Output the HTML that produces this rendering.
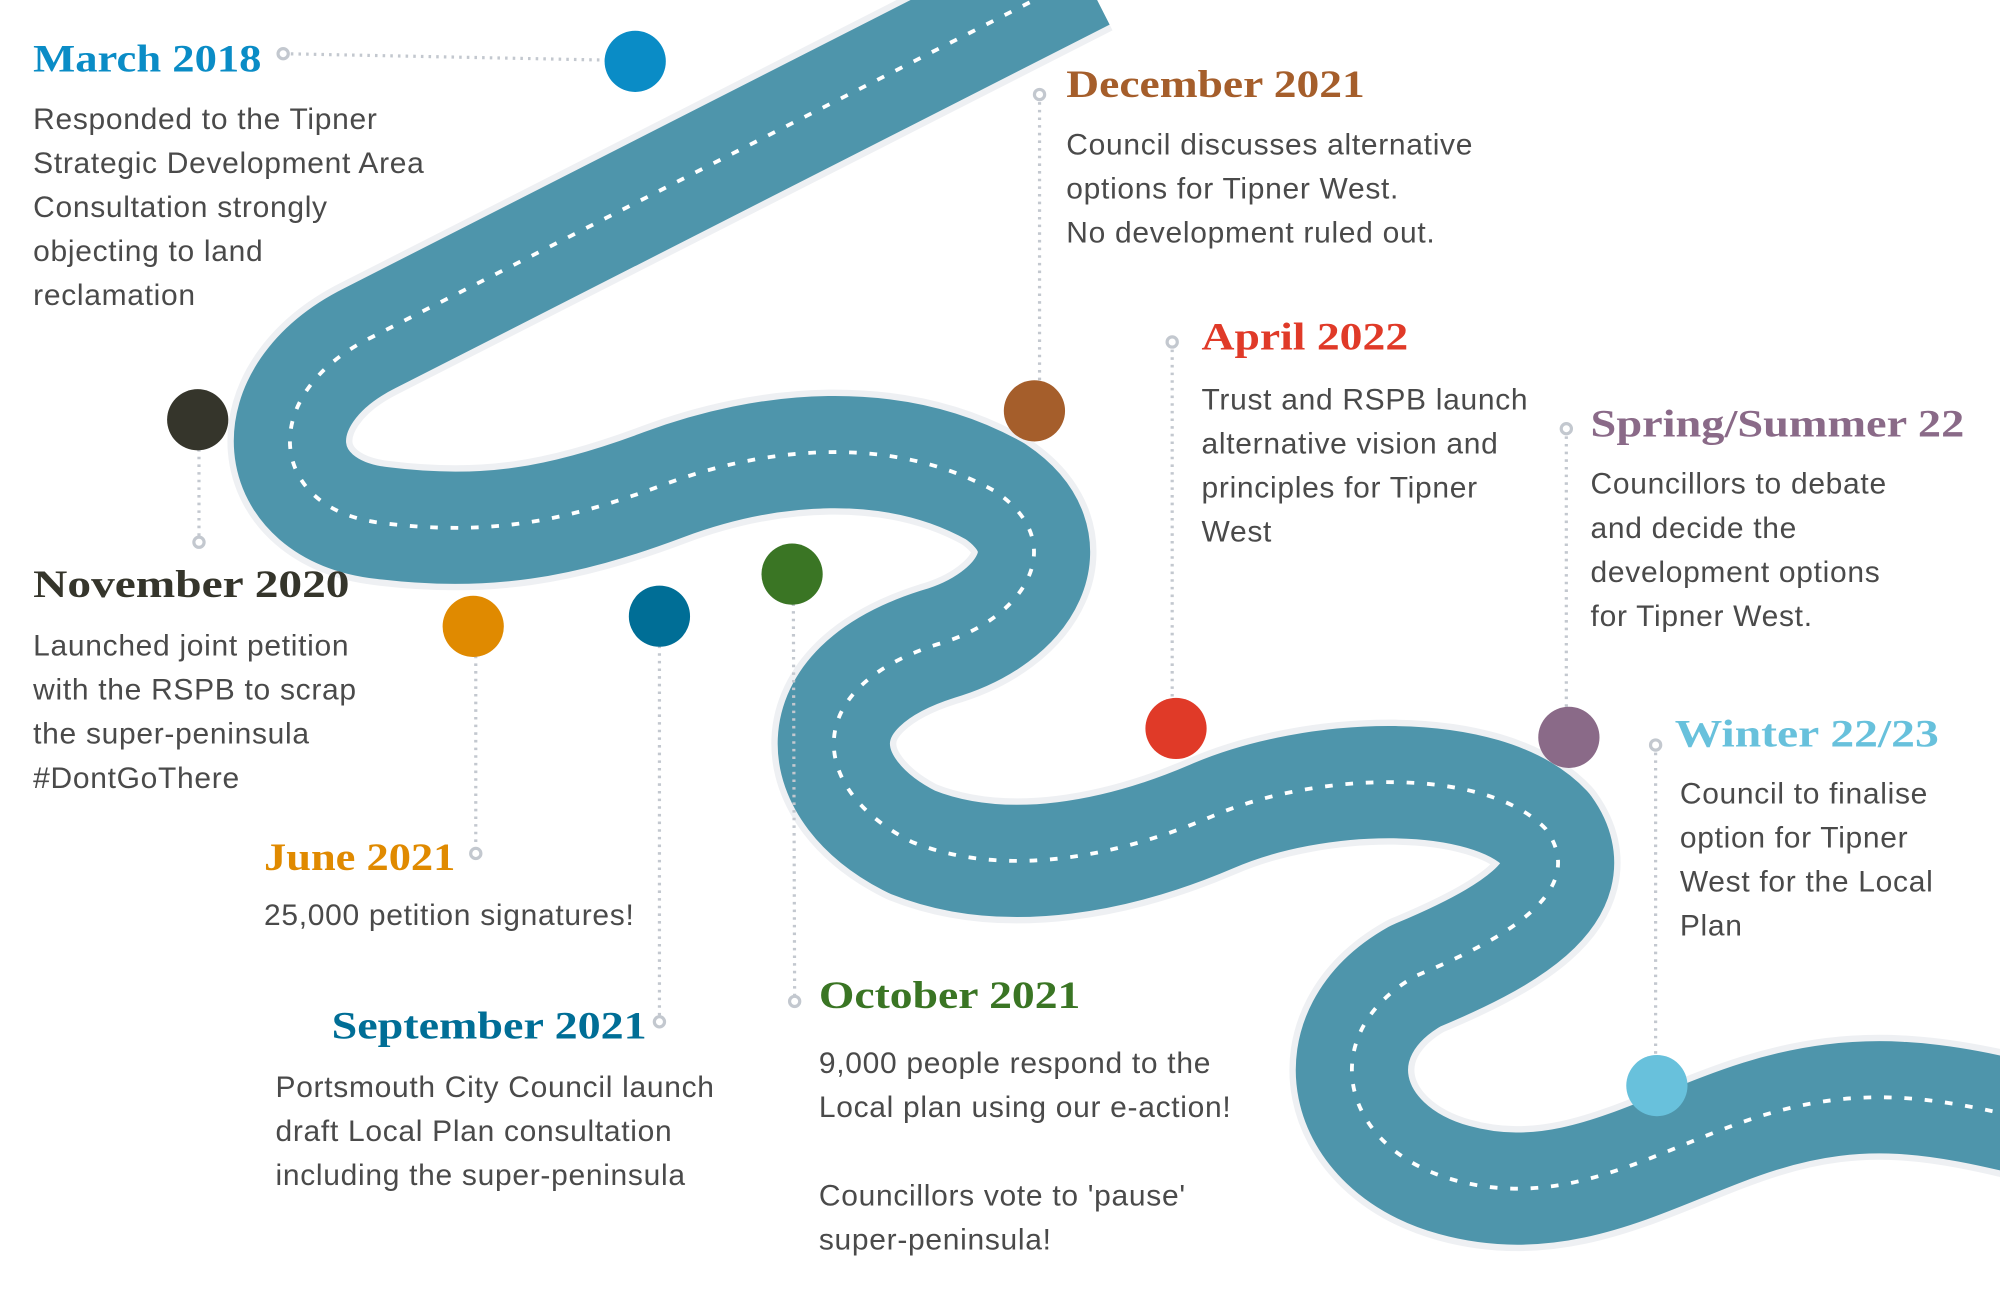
<!DOCTYPE html>
<html><head><meta charset="utf-8"><style>
html,body{margin:0;padding:0;background:#fff;width:2000px;height:1300px;overflow:hidden}
svg{display:block}
.t{font-family:"Liberation Serif",serif;font-weight:bold;font-size:31px}
.b{font-family:"Liberation Sans",sans-serif;font-size:23.5px;letter-spacing:0.55px;fill:#4a4a4a}
.c{stroke:#c3c8cf;stroke-width:2.5;stroke-dasharray:2 4;fill:none}
.e{fill:#fff;stroke:#c3c8cf;stroke-width:2.5}
</style></head><body>
<svg width="2000" height="1300" viewBox="0 0 1568 1019" xmlns="http://www.w3.org/2000/svg">
<defs><path id="rp" d="M850,-20 L290,265 C200,310 210,400 300,410 C380,420 440,410 520,380 C600,350 700,340 780,385 C840,425 805,485 735,505 C625,540 635,620 715,660 C790,690 880,670 950,640 C1030,605 1165,600 1212,650 C1248,700 1175,738 1110,765 C1030,810 1050,900 1140,925 C1230,950 1300,900 1380,875 C1460,850 1520,860 1600,880" fill="none"/></defs>
<use href="#rp" stroke="#eef0f3" stroke-width="98" stroke-linejoin="round"/>
<use href="#rp" stroke="#4e95ab" stroke-width="88" stroke-linejoin="round"/>
<use href="#rp" stroke="#fff" stroke-width="3" stroke-dasharray="6 10"/>

<!-- connectors -->
<path class="c" d="M222,42 L475,47"/><circle class="e" cx="222" cy="42" r="4"/>
<path class="c" d="M156,352 L156,424"/><circle class="e" cx="156" cy="425" r="4"/>
<path class="c" d="M373,514 L373,668"/><circle class="e" cx="373" cy="669" r="4"/>
<path class="c" d="M517,506 L517,800"/><circle class="e" cx="517" cy="801" r="4"/>
<path class="c" d="M622,473 L623,784"/><circle class="e" cx="623" cy="785" r="4"/>
<path class="c" d="M815,74 L815,300"/><circle class="e" cx="815" cy="74" r="4"/>
<path class="c" d="M919,268 L919,548"/><circle class="e" cx="919" cy="268" r="4"/>
<path class="c" d="M1228,336 L1228,555"/><circle class="e" cx="1228" cy="336" r="4"/>
<path class="c" d="M1298,584 L1298,828"/><circle class="e" cx="1298" cy="584" r="4"/>

<!-- dots -->
<circle cx="498" cy="48" r="24" fill="#0a8cc6"/>
<circle cx="155" cy="329" r="24" fill="#35352b"/>
<circle cx="371" cy="491" r="24" fill="#e08a00"/>
<circle cx="517" cy="483" r="24" fill="#006e96"/>
<circle cx="621" cy="450" r="24" fill="#3a7524"/>
<circle cx="811" cy="322" r="24" fill="#a55e2b"/>
<circle cx="922" cy="571" r="24" fill="#e03a28"/>
<circle cx="1230" cy="578" r="24" fill="#8a6a88"/>
<circle cx="1299" cy="851" r="24" fill="#68c1dc"/>

<!-- texts -->
<text class="t" x="26" y="56" fill="#0a8cc6" textLength="179" lengthAdjust="spacingAndGlyphs">March 2018</text>
<text class="b"><tspan x="26" y="101">Responded to the Tipner</tspan><tspan x="26" y="135.5">Strategic Development Area</tspan><tspan x="26" y="170">Consultation strongly</tspan><tspan x="26" y="204.5">objecting to land</tspan><tspan x="26" y="239">reclamation</tspan></text>

<text class="t" x="26" y="468" fill="#35352b" textLength="248" lengthAdjust="spacingAndGlyphs">November 2020</text>
<text class="b"><tspan x="26" y="514">Launched joint petition</tspan><tspan x="26" y="548.5">with the RSPB to scrap</tspan><tspan x="26" y="583">the super-peninsula</tspan><tspan x="26" y="617.5">#DontGoThere</tspan></text>

<text class="t" x="207" y="682" fill="#e08a00" textLength="150" lengthAdjust="spacingAndGlyphs">June 2021</text>
<text class="b" x="207" y="725">25,000 petition signatures!</text>

<text class="t" x="260" y="814" fill="#006e96" textLength="247" lengthAdjust="spacingAndGlyphs">September 2021</text>
<text class="b"><tspan x="216" y="860">Portsmouth City Council launch</tspan><tspan x="216" y="894.5">draft Local Plan consultation</tspan><tspan x="216" y="929">including the super-peninsula</tspan></text>

<text class="t" x="642" y="790" fill="#3a7524" textLength="205" lengthAdjust="spacingAndGlyphs">October 2021</text>
<text class="b"><tspan x="642" y="841">9,000 people respond to the</tspan><tspan x="642" y="875.5">Local plan using our e-action!</tspan><tspan x="642" y="945">Councillors vote to 'pause'</tspan><tspan x="642" y="979.5">super-peninsula!</tspan></text>

<text class="t" x="836" y="76" fill="#a55e2b" textLength="234" lengthAdjust="spacingAndGlyphs">December 2021</text>
<text class="b"><tspan x="836" y="121">Council discusses alternative</tspan><tspan x="836" y="155.5">options for Tipner West.</tspan><tspan x="836" y="190">No development ruled out.</tspan></text>

<text class="t" x="942" y="274" fill="#e03a28" textLength="162" lengthAdjust="spacingAndGlyphs">April 2022</text>
<text class="b"><tspan x="942" y="321">Trust and RSPB launch</tspan><tspan x="942" y="355.5">alternative vision and</tspan><tspan x="942" y="390">principles for Tipner</tspan><tspan x="942" y="424.5">West</tspan></text>

<text class="t" x="1247" y="342" fill="#8a6a88" textLength="293" lengthAdjust="spacingAndGlyphs">Spring/Summer 22</text>
<text class="b"><tspan x="1247" y="387">Councillors to debate</tspan><tspan x="1247" y="421.5">and decide the</tspan><tspan x="1247" y="456">development options</tspan><tspan x="1247" y="490.5">for Tipner West.</tspan></text>

<text class="t" x="1313" y="585" fill="#68c1dc" textLength="207" lengthAdjust="spacingAndGlyphs">Winter 22/23</text>
<text class="b"><tspan x="1317" y="630">Council to finalise</tspan><tspan x="1317" y="664.5">option for Tipner</tspan><tspan x="1317" y="699">West for the Local</tspan><tspan x="1317" y="733.5">Plan</tspan></text>
</svg>
</body></html>
